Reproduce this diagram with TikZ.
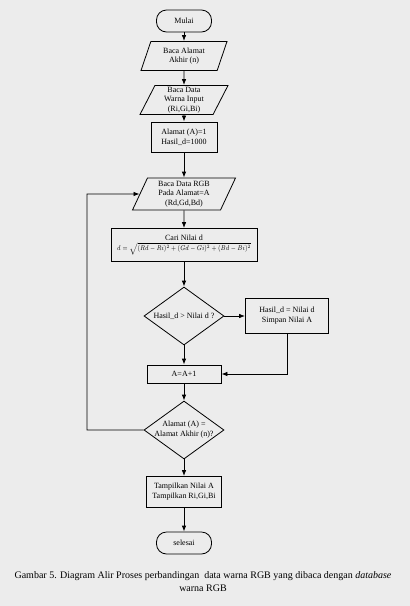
\documentclass[tikz,border=0pt]{standalone}
\usepackage{fontspec}
\usepackage{graphicx}
\setmainfont{Liberation Serif}
\usetikzlibrary{shapes.geometric,arrows.meta}
\definecolor{paper}{RGB}{236,236,236}

\begin{document}
\begin{tikzpicture}[x=1pt,y=-1pt,
    >={Latex[length=6pt,width=4.5pt]},
    line width=0.8pt,
    every node/.style={font=\fontsize{8}{10}\selectfont, align=center, inner sep=1pt},
    terminal/.style={draw, rectangle, rounded corners=10pt, minimum width=55pt, minimum height=22pt},
    io/.style={draw, trapezium, trapezium left angle=61, trapezium right angle=119,
        trapezium stretches body, minimum height=29pt, inner sep=0.5pt,
        font=\fontsize{8}{9.5}\selectfont},
    process/.style={draw, rectangle, minimum height=30pt},
    decision/.style={draw, diamond, aspect=1.4, minimum width=80pt, minimum height=58pt, inner sep=0pt}]

\fill[paper] (0,0) rectangle (410,606);

\node[terminal] (mulai) at (184,21) {Mulai};
\node[io, minimum width=86pt] (akhir) at (184,56) {Baca Alamat\\Akhir (n)};
\node[io, minimum width=88pt] (input) at (184,100) {Baca Data\\Warna Input\\(Ri,Gi,Bi)};
\node[process, minimum width=66pt] (init) at (184,137) {Alamat (A)=1\\Hasil\_d=1000};
\node[io, minimum width=103pt, minimum height=32pt] (rgb) at (184,194) {Baca Data RGB\\Pada Alamat=A\\(Rd,Gd,Bd)};
\node[process, minimum width=146pt, minimum height=33pt] (cari) at (184,245)
    {Cari Nilai d\\{\fontsize{7}{9}\selectfont\scalebox{0.82}[1]{$d=\sqrt{(Rd-Ri)^2+(Gd-Gi)^2+(Bd-Bi)^2}$}}};
\node[decision] (cek) at (184,316) {Hasil\_d > Nilai d ?};
\node[process, minimum width=83pt, minimum height=35pt] (simpan) at (287,316) {Hasil\_d = Nilai d\\Simpan Nilai A};
\node[process, minimum width=74pt, minimum height=18pt] (tambah) at (184,374) {A=A+1};
\node[decision] (akhircek) at (184,430) {\makebox[0pt]{Alamat (A) =}\\\makebox[0pt]{Alamat Akhir (n)?}};
\node[process, minimum width=75pt, minimum height=31pt] (tampil) at (184,492) {Tampilkan Nilai A\\Tampilkan Ri,Gi,Bi};
\node[terminal] (selesai) at (184,543) {selesai};

\node[font=\fontsize{10}{13}\selectfont] (judul) at (203,582)
    {Gambar 5. Diagram Alir Proses perbandingan\ \ data warna RGB yang dibaca dengan \textit{database}\\warna RGB};

\draw[->] (mulai) -- (akhir);
\draw[->] (akhir) -- (input);
\draw[->] (input) -- (init);
\draw[->] (init) -- (rgb);
\draw[->] (rgb) -- (cari);
\draw[->] (cari) -- (cek);
\draw[->] (cek) -- (simpan);
\draw[->] (cek) -- (tambah);
\draw[->] (simpan.south) |- (tambah.east);
\draw[->] (tambah) -- (akhircek);
\draw[->] (akhircek) -- (tampil);
\draw[->] (tampil) -- (selesai);

% kembali ke baca data
\coordinate (balik) at (87,194);
\draw[->] (akhircek.west) -| (balik) -- (rgb.west);

\end{tikzpicture}
\end{document}
